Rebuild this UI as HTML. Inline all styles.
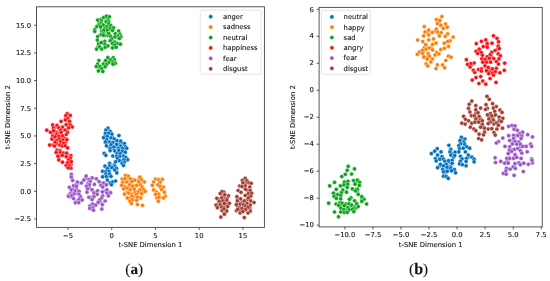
<!DOCTYPE html>
<html><head><meta charset="utf-8"><title>t-SNE</title>
<style>html,body{margin:0;padding:0;background:#fff}svg{display:block}text{stroke:#141414;stroke-width:.11px}</style></head>
<body>
<svg width="550" height="281" viewBox="0 0 550 281" font-family="'DejaVu Sans','Liberation Sans',sans-serif" font-size="6.82" fill="#141414" text-rendering="geometricPrecision">
<rect width="550" height="281" fill="#fff"/>
<g fill="#0071c1" stroke="#fff" stroke-width="0.42"><circle cx="120.0" cy="149.5" r="2.1"/><circle cx="108.8" cy="131.4" r="2.1"/><circle cx="121.5" cy="143.2" r="2.1"/><circle cx="106.7" cy="133.1" r="2.1"/><circle cx="115.7" cy="140.7" r="2.1"/><circle cx="107.8" cy="171.5" r="2.1"/><circle cx="112.4" cy="137.5" r="2.1"/><circle cx="106.5" cy="142.8" r="2.1"/><circle cx="118.7" cy="144.1" r="2.1"/><circle cx="116.1" cy="170.3" r="2.1"/><circle cx="117.8" cy="145.7" r="2.1"/><circle cx="123.7" cy="147.2" r="2.1"/><circle cx="109.1" cy="147.3" r="2.1"/><circle cx="115.7" cy="146.4" r="2.1"/><circle cx="105.5" cy="140.1" r="2.1"/><circle cx="113.1" cy="166.9" r="2.1"/><circle cx="124.5" cy="151.4" r="2.1"/><circle cx="111.4" cy="143.6" r="2.1"/><circle cx="121.9" cy="146.9" r="2.1"/><circle cx="120.9" cy="160.8" r="2.1"/><circle cx="110.6" cy="132.8" r="2.1"/><circle cx="126.0" cy="158.9" r="2.1"/><circle cx="118.0" cy="155.4" r="2.1"/><circle cx="112.8" cy="148.1" r="2.1"/><circle cx="104.8" cy="136.7" r="2.1"/><circle cx="105.0" cy="175.9" r="2.1"/><circle cx="108.5" cy="175.6" r="2.1"/><circle cx="124.0" cy="149.7" r="2.1"/><circle cx="124.8" cy="161.0" r="2.1"/><circle cx="110.1" cy="167.4" r="2.1"/><circle cx="114.7" cy="168.4" r="2.1"/><circle cx="114.3" cy="164.8" r="2.1"/><circle cx="107.9" cy="128.2" r="2.1"/><circle cx="105.9" cy="130.0" r="2.1"/><circle cx="110.1" cy="131.4" r="2.1"/><circle cx="105.4" cy="133.3" r="2.1"/><circle cx="108.7" cy="133.3" r="2.1"/><circle cx="111.9" cy="134.2" r="2.1"/><circle cx="118.9" cy="135.6" r="2.1"/><circle cx="103.6" cy="137.7" r="2.1"/><circle cx="107.3" cy="136.5" r="2.1"/><circle cx="111.0" cy="137.9" r="2.1"/><circle cx="114.2" cy="138.8" r="2.1"/><circle cx="106.8" cy="139.7" r="2.1"/><circle cx="117.0" cy="140.7" r="2.1"/><circle cx="120.7" cy="141.1" r="2.1"/><circle cx="105.4" cy="142.1" r="2.1"/><circle cx="109.6" cy="142.1" r="2.1"/><circle cx="112.8" cy="142.5" r="2.1"/><circle cx="124.4" cy="143.6" r="2.1"/><circle cx="116.5" cy="144.4" r="2.1"/><circle cx="111.0" cy="144.8" r="2.1"/><circle cx="106.4" cy="145.8" r="2.1"/><circle cx="120.7" cy="146.2" r="2.1"/><circle cx="125.3" cy="146.7" r="2.1"/><circle cx="113.8" cy="147.1" r="2.1"/><circle cx="110.1" cy="148.3" r="2.1"/><circle cx="126.7" cy="148.3" r="2.1"/><circle cx="122.6" cy="148.5" r="2.1"/><circle cx="118.4" cy="148.5" r="2.1"/><circle cx="110.1" cy="150.7" r="2.1"/><circle cx="114.7" cy="150.9" r="2.1"/><circle cx="118.9" cy="150.5" r="2.1"/><circle cx="122.6" cy="151.2" r="2.1"/><circle cx="125.3" cy="152.3" r="2.1"/><circle cx="104.2" cy="153.3" r="2.1"/><circle cx="105.9" cy="155.3" r="2.1"/><circle cx="117.0" cy="153.7" r="2.1"/><circle cx="120.2" cy="153.7" r="2.1"/><circle cx="112.8" cy="156.0" r="2.1"/><circle cx="116.5" cy="156.5" r="2.1"/><circle cx="119.8" cy="156.5" r="2.1"/><circle cx="123.5" cy="156.0" r="2.1"/><circle cx="125.8" cy="157.4" r="2.1"/><circle cx="117.5" cy="158.4" r="2.1"/><circle cx="127.6" cy="159.7" r="2.1"/><circle cx="123.9" cy="159.7" r="2.1"/><circle cx="119.3" cy="160.7" r="2.1"/><circle cx="115.6" cy="161.8" r="2.1"/><circle cx="124.4" cy="162.1" r="2.1"/><circle cx="122.1" cy="163.4" r="2.1"/><circle cx="109.6" cy="163.3" r="2.1"/><circle cx="123.5" cy="165.5" r="2.1"/><circle cx="105.0" cy="166.2" r="2.1"/><circle cx="109.6" cy="165.8" r="2.1"/><circle cx="114.7" cy="166.2" r="2.1"/><circle cx="111.9" cy="167.6" r="2.1"/><circle cx="107.3" cy="168.5" r="2.1"/><circle cx="116.5" cy="168.3" r="2.1"/><circle cx="114.7" cy="169.9" r="2.1"/><circle cx="102.6" cy="171.3" r="2.1"/><circle cx="105.9" cy="171.7" r="2.1"/><circle cx="109.1" cy="171.3" r="2.1"/><circle cx="116.8" cy="172.9" r="2.1"/><circle cx="105.9" cy="174.0" r="2.1"/><circle cx="109.6" cy="174.0" r="2.1"/><circle cx="102.6" cy="176.8" r="2.1"/><circle cx="106.4" cy="176.6" r="2.1"/><circle cx="111.0" cy="176.4" r="2.1"/><circle cx="107.3" cy="180.1" r="2.1"/><circle cx="110.1" cy="182.8" r="2.1"/><circle cx="112.8" cy="181.9" r="2.1"/><circle cx="115.6" cy="181.0" r="2.1"/><circle cx="111.4" cy="184.7" r="2.1"/></g>
<g fill="#ff7d05" stroke="#fff" stroke-width="0.42"><circle cx="140.2" cy="183.1" r="2.1"/><circle cx="131.6" cy="179.7" r="2.1"/><circle cx="156.7" cy="194.6" r="2.1"/><circle cx="131.8" cy="187.5" r="2.1"/><circle cx="126.0" cy="187.8" r="2.1"/><circle cx="158.5" cy="198.9" r="2.1"/><circle cx="133.6" cy="196.5" r="2.1"/><circle cx="136.1" cy="193.6" r="2.1"/><circle cx="160.3" cy="185.3" r="2.1"/><circle cx="124.7" cy="181.5" r="2.1"/><circle cx="126.2" cy="177.2" r="2.1"/><circle cx="123.8" cy="179.9" r="2.1"/><circle cx="122.8" cy="186.3" r="2.1"/><circle cx="129.1" cy="179.3" r="2.1"/><circle cx="159.8" cy="180.0" r="2.1"/><circle cx="130.2" cy="193.5" r="2.1"/><circle cx="139.4" cy="184.9" r="2.1"/><circle cx="138.9" cy="198.2" r="2.1"/><circle cx="139.6" cy="192.5" r="2.1"/><circle cx="127.4" cy="192.3" r="2.1"/><circle cx="159.8" cy="183.2" r="2.1"/><circle cx="134.0" cy="187.5" r="2.1"/><circle cx="140.4" cy="179.3" r="2.1"/><circle cx="157.3" cy="196.8" r="2.1"/><circle cx="138.2" cy="180.4" r="2.1"/><circle cx="142.6" cy="192.5" r="2.1"/><circle cx="129.4" cy="199.9" r="2.1"/><circle cx="135.5" cy="191.2" r="2.1"/><circle cx="129.6" cy="186.9" r="2.1"/><circle cx="130.7" cy="198.5" r="2.1"/><circle cx="130.3" cy="181.6" r="2.1"/><circle cx="141.2" cy="191.3" r="2.1"/><circle cx="125.4" cy="175.4" r="2.1"/><circle cx="128.2" cy="176.0" r="2.1"/><circle cx="139.8" cy="177.2" r="2.1"/><circle cx="122.2" cy="179.1" r="2.1"/><circle cx="124.9" cy="178.8" r="2.1"/><circle cx="130.5" cy="178.8" r="2.1"/><circle cx="134.7" cy="180.2" r="2.1"/><circle cx="141.6" cy="179.7" r="2.1"/><circle cx="122.6" cy="182.5" r="2.1"/><circle cx="126.8" cy="182.0" r="2.1"/><circle cx="131.9" cy="181.6" r="2.1"/><circle cx="138.8" cy="182.0" r="2.1"/><circle cx="144.4" cy="182.0" r="2.1"/><circle cx="121.7" cy="185.3" r="2.1"/><circle cx="129.6" cy="184.8" r="2.1"/><circle cx="136.5" cy="185.3" r="2.1"/><circle cx="140.7" cy="184.8" r="2.1"/><circle cx="124.9" cy="186.7" r="2.1"/><circle cx="132.8" cy="186.2" r="2.1"/><circle cx="127.3" cy="188.1" r="2.1"/><circle cx="142.1" cy="187.1" r="2.1"/><circle cx="123.6" cy="189.0" r="2.1"/><circle cx="130.0" cy="189.9" r="2.1"/><circle cx="134.2" cy="189.4" r="2.1"/><circle cx="139.8" cy="189.9" r="2.1"/><circle cx="143.5" cy="189.4" r="2.1"/><circle cx="145.3" cy="191.3" r="2.1"/><circle cx="137.9" cy="192.2" r="2.1"/><circle cx="135.1" cy="192.7" r="2.1"/><circle cx="124.5" cy="194.1" r="2.1"/><circle cx="128.6" cy="193.1" r="2.1"/><circle cx="131.9" cy="194.3" r="2.1"/><circle cx="141.6" cy="193.6" r="2.1"/><circle cx="131.9" cy="196.2" r="2.1"/><circle cx="136.5" cy="194.8" r="2.1"/><circle cx="127.3" cy="197.9" r="2.1"/><circle cx="140.7" cy="197.9" r="2.1"/><circle cx="137.4" cy="197.3" r="2.1"/><circle cx="132.4" cy="199.9" r="2.1"/><circle cx="136.5" cy="200.4" r="2.1"/><circle cx="130.0" cy="201.3" r="2.1"/><circle cx="131.4" cy="203.4" r="2.1"/><circle cx="137.4" cy="204.5" r="2.1"/><circle cx="142.5" cy="205.4" r="2.1"/><circle cx="155.5" cy="179.1" r="2.1"/><circle cx="162.4" cy="179.3" r="2.1"/><circle cx="158.3" cy="179.7" r="2.1"/><circle cx="153.6" cy="182.0" r="2.1"/><circle cx="160.1" cy="182.0" r="2.1"/><circle cx="152.3" cy="185.3" r="2.1"/><circle cx="157.8" cy="184.8" r="2.1"/><circle cx="163.4" cy="187.1" r="2.1"/><circle cx="160.1" cy="186.7" r="2.1"/><circle cx="153.6" cy="189.9" r="2.1"/><circle cx="161.5" cy="189.6" r="2.1"/><circle cx="164.3" cy="192.2" r="2.1"/><circle cx="156.4" cy="192.2" r="2.1"/><circle cx="158.7" cy="194.1" r="2.1"/><circle cx="155.5" cy="194.3" r="2.1"/><circle cx="165.2" cy="196.2" r="2.1"/><circle cx="163.4" cy="198.0" r="2.1"/><circle cx="156.9" cy="198.0" r="2.1"/><circle cx="159.2" cy="197.1" r="2.1"/><circle cx="158.3" cy="201.3" r="2.1"/></g>
<g fill="#08a318" stroke="#fff" stroke-width="0.42"><circle cx="99.4" cy="69.2" r="2.1"/><circle cx="119.2" cy="36.1" r="2.1"/><circle cx="98.0" cy="26.0" r="2.1"/><circle cx="99.1" cy="23.2" r="2.1"/><circle cx="107.6" cy="21.1" r="2.1"/><circle cx="108.6" cy="30.4" r="2.1"/><circle cx="101.0" cy="19.3" r="2.1"/><circle cx="113.7" cy="45.1" r="2.1"/><circle cx="112.3" cy="37.9" r="2.1"/><circle cx="103.1" cy="28.2" r="2.1"/><circle cx="101.5" cy="29.1" r="2.1"/><circle cx="107.3" cy="23.2" r="2.1"/><circle cx="97.4" cy="65.8" r="2.1"/><circle cx="98.1" cy="46.9" r="2.1"/><circle cx="108.7" cy="60.2" r="2.1"/><circle cx="109.4" cy="26.2" r="2.1"/><circle cx="107.6" cy="35.4" r="2.1"/><circle cx="113.2" cy="41.8" r="2.1"/><circle cx="112.4" cy="61.0" r="2.1"/><circle cx="104.8" cy="62.7" r="2.1"/><circle cx="105.3" cy="17.5" r="2.1"/><circle cx="108.3" cy="18.7" r="2.1"/><circle cx="118.4" cy="37.9" r="2.1"/><circle cx="105.9" cy="29.9" r="2.1"/><circle cx="107.0" cy="32.0" r="2.1"/><circle cx="115.9" cy="43.5" r="2.1"/><circle cx="104.6" cy="31.5" r="2.1"/><circle cx="114.2" cy="46.8" r="2.1"/><circle cx="110.7" cy="61.6" r="2.1"/><circle cx="106.0" cy="28.2" r="2.1"/><circle cx="102.8" cy="32.4" r="2.1"/><circle cx="116.7" cy="36.7" r="2.1"/><circle cx="99.3" cy="43.0" r="2.1"/><circle cx="104.9" cy="26.9" r="2.1"/><circle cx="103.6" cy="17.6" r="2.1"/><circle cx="106.5" cy="16.2" r="2.1"/><circle cx="109.5" cy="16.8" r="2.1"/><circle cx="97.7" cy="20.1" r="2.1"/><circle cx="101.4" cy="20.8" r="2.1"/><circle cx="107.9" cy="19.9" r="2.1"/><circle cx="106.1" cy="21.7" r="2.1"/><circle cx="108.8" cy="22.0" r="2.1"/><circle cx="101.0" cy="23.3" r="2.1"/><circle cx="108.8" cy="24.0" r="2.1"/><circle cx="99.1" cy="25.0" r="2.1"/><circle cx="103.3" cy="25.0" r="2.1"/><circle cx="96.8" cy="26.6" r="2.1"/><circle cx="100.5" cy="26.8" r="2.1"/><circle cx="110.7" cy="25.7" r="2.1"/><circle cx="106.5" cy="26.8" r="2.1"/><circle cx="94.7" cy="29.6" r="2.1"/><circle cx="104.7" cy="28.7" r="2.1"/><circle cx="110.2" cy="28.2" r="2.1"/><circle cx="113.5" cy="27.9" r="2.1"/><circle cx="94.7" cy="31.4" r="2.1"/><circle cx="101.9" cy="31.4" r="2.1"/><circle cx="107.0" cy="30.1" r="2.1"/><circle cx="103.7" cy="30.5" r="2.1"/><circle cx="112.5" cy="30.5" r="2.1"/><circle cx="118.6" cy="31.0" r="2.1"/><circle cx="108.8" cy="33.5" r="2.1"/><circle cx="103.3" cy="33.8" r="2.1"/><circle cx="101.0" cy="34.7" r="2.1"/><circle cx="115.3" cy="33.8" r="2.1"/><circle cx="119.9" cy="34.2" r="2.1"/><circle cx="97.7" cy="36.5" r="2.1"/><circle cx="104.7" cy="35.6" r="2.1"/><circle cx="110.7" cy="36.3" r="2.1"/><circle cx="118.1" cy="36.1" r="2.1"/><circle cx="120.9" cy="36.8" r="2.1"/><circle cx="114.9" cy="37.0" r="2.1"/><circle cx="103.3" cy="35.2" r="2.1"/><circle cx="97.3" cy="40.1" r="2.1"/><circle cx="111.6" cy="38.9" r="2.1"/><circle cx="119.5" cy="38.5" r="2.1"/><circle cx="104.7" cy="41.3" r="2.1"/><circle cx="110.2" cy="40.8" r="2.1"/><circle cx="114.9" cy="42.2" r="2.1"/><circle cx="98.6" cy="44.0" r="2.1"/><circle cx="104.7" cy="44.0" r="2.1"/><circle cx="101.4" cy="42.6" r="2.1"/><circle cx="107.9" cy="45.9" r="2.1"/><circle cx="112.5" cy="43.6" r="2.1"/><circle cx="117.6" cy="43.6" r="2.1"/><circle cx="120.4" cy="44.2" r="2.1"/><circle cx="114.9" cy="45.0" r="2.1"/><circle cx="99.6" cy="46.8" r="2.1"/><circle cx="105.1" cy="47.3" r="2.1"/><circle cx="112.5" cy="47.9" r="2.1"/><circle cx="116.2" cy="47.3" r="2.1"/><circle cx="96.5" cy="49.1" r="2.1"/><circle cx="101.7" cy="49.1" r="2.1"/><circle cx="107.9" cy="57.7" r="2.1"/><circle cx="113.2" cy="57.7" r="2.1"/><circle cx="98.9" cy="60.5" r="2.1"/><circle cx="105.6" cy="60.5" r="2.1"/><circle cx="110.7" cy="59.9" r="2.1"/><circle cx="114.4" cy="59.9" r="2.1"/><circle cx="108.8" cy="62.6" r="2.1"/><circle cx="113.0" cy="62.2" r="2.1"/><circle cx="115.3" cy="63.3" r="2.1"/><circle cx="97.7" cy="64.0" r="2.1"/><circle cx="103.3" cy="64.0" r="2.1"/><circle cx="106.5" cy="64.5" r="2.1"/><circle cx="113.0" cy="64.2" r="2.1"/><circle cx="96.3" cy="66.6" r="2.1"/><circle cx="100.0" cy="66.6" r="2.1"/><circle cx="105.1" cy="66.8" r="2.1"/><circle cx="101.7" cy="68.7" r="2.1"/><circle cx="98.4" cy="71.0" r="2.1"/><circle cx="102.8" cy="71.4" r="2.1"/></g>
<g fill="#fa0f14" stroke="#fff" stroke-width="0.42"><circle cx="70.9" cy="164.6" r="2.1"/><circle cx="63.8" cy="130.1" r="2.1"/><circle cx="58.1" cy="151.6" r="2.1"/><circle cx="66.7" cy="116.7" r="2.1"/><circle cx="67.3" cy="155.3" r="2.1"/><circle cx="64.4" cy="140.1" r="2.1"/><circle cx="55.7" cy="126.8" r="2.1"/><circle cx="61.8" cy="129.3" r="2.1"/><circle cx="69.5" cy="157.0" r="2.1"/><circle cx="53.0" cy="145.0" r="2.1"/><circle cx="53.1" cy="131.9" r="2.1"/><circle cx="68.4" cy="125.1" r="2.1"/><circle cx="67.4" cy="157.7" r="2.1"/><circle cx="59.1" cy="156.4" r="2.1"/><circle cx="65.2" cy="142.5" r="2.1"/><circle cx="69.9" cy="159.2" r="2.1"/><circle cx="68.0" cy="164.2" r="2.1"/><circle cx="61.9" cy="140.6" r="2.1"/><circle cx="55.4" cy="135.1" r="2.1"/><circle cx="64.3" cy="138.1" r="2.1"/><circle cx="69.6" cy="123.6" r="2.1"/><circle cx="56.8" cy="143.4" r="2.1"/><circle cx="57.9" cy="132.9" r="2.1"/><circle cx="65.8" cy="118.3" r="2.1"/><circle cx="61.0" cy="144.0" r="2.1"/><circle cx="55.4" cy="138.7" r="2.1"/><circle cx="60.4" cy="137.9" r="2.1"/><circle cx="53.9" cy="136.4" r="2.1"/><circle cx="67.2" cy="113.7" r="2.1"/><circle cx="70.2" cy="115.4" r="2.1"/><circle cx="65.8" cy="115.6" r="2.1"/><circle cx="67.6" cy="118.4" r="2.1"/><circle cx="61.1" cy="121.4" r="2.1"/><circle cx="65.3" cy="120.0" r="2.1"/><circle cx="69.5" cy="121.4" r="2.1"/><circle cx="52.6" cy="124.9" r="2.1"/><circle cx="57.0" cy="125.4" r="2.1"/><circle cx="66.2" cy="124.7" r="2.1"/><circle cx="70.4" cy="125.1" r="2.1"/><circle cx="62.5" cy="127.0" r="2.1"/><circle cx="53.3" cy="127.9" r="2.1"/><circle cx="58.8" cy="127.9" r="2.1"/><circle cx="72.3" cy="127.0" r="2.1"/><circle cx="68.6" cy="127.9" r="2.1"/><circle cx="46.8" cy="130.2" r="2.1"/><circle cx="60.7" cy="130.2" r="2.1"/><circle cx="65.3" cy="130.0" r="2.1"/><circle cx="50.5" cy="132.3" r="2.1"/><circle cx="56.1" cy="132.3" r="2.1"/><circle cx="67.6" cy="132.3" r="2.1"/><circle cx="53.7" cy="130.7" r="2.1"/><circle cx="56.5" cy="134.5" r="2.1"/><circle cx="61.1" cy="132.6" r="2.1"/><circle cx="66.2" cy="134.5" r="2.1"/><circle cx="52.8" cy="135.9" r="2.1"/><circle cx="62.5" cy="135.9" r="2.1"/><circle cx="55.1" cy="136.8" r="2.1"/><circle cx="58.8" cy="136.3" r="2.1"/><circle cx="51.9" cy="139.1" r="2.1"/><circle cx="59.1" cy="139.1" r="2.1"/><circle cx="63.0" cy="140.0" r="2.1"/><circle cx="66.9" cy="139.6" r="2.1"/><circle cx="56.5" cy="140.5" r="2.1"/><circle cx="55.1" cy="142.1" r="2.1"/><circle cx="60.7" cy="141.9" r="2.1"/><circle cx="63.5" cy="143.3" r="2.1"/><circle cx="49.6" cy="145.1" r="2.1"/><circle cx="54.5" cy="146.1" r="2.1"/><circle cx="59.8" cy="145.1" r="2.1"/><circle cx="62.3" cy="146.1" r="2.1"/><circle cx="65.3" cy="145.8" r="2.1"/><circle cx="67.6" cy="147.9" r="2.1"/><circle cx="57.0" cy="150.2" r="2.1"/><circle cx="60.2" cy="150.7" r="2.1"/><circle cx="56.1" cy="152.5" r="2.1"/><circle cx="60.7" cy="152.5" r="2.1"/><circle cx="63.5" cy="153.0" r="2.1"/><circle cx="66.7" cy="153.2" r="2.1"/><circle cx="57.9" cy="156.2" r="2.1"/><circle cx="62.3" cy="155.3" r="2.1"/><circle cx="66.2" cy="156.6" r="2.1"/><circle cx="70.9" cy="155.7" r="2.1"/><circle cx="70.4" cy="158.0" r="2.1"/><circle cx="58.8" cy="159.9" r="2.1"/><circle cx="68.6" cy="159.9" r="2.1"/><circle cx="62.5" cy="162.2" r="2.1"/><circle cx="67.6" cy="162.7" r="2.1"/><circle cx="71.3" cy="161.7" r="2.1"/><circle cx="66.2" cy="165.4" r="2.1"/><circle cx="69.5" cy="165.9" r="2.1"/><circle cx="70.9" cy="168.2" r="2.1"/><circle cx="68.1" cy="167.8" r="2.1"/></g>
<g fill="#9855c8" stroke="#fff" stroke-width="0.42"><circle cx="80.5" cy="198.1" r="2.1"/><circle cx="108.7" cy="193.9" r="2.1"/><circle cx="94.7" cy="195.0" r="2.1"/><circle cx="90.5" cy="179.4" r="2.1"/><circle cx="101.9" cy="183.5" r="2.1"/><circle cx="91.6" cy="205.1" r="2.1"/><circle cx="93.9" cy="205.0" r="2.1"/><circle cx="85.8" cy="178.1" r="2.1"/><circle cx="80.0" cy="200.3" r="2.1"/><circle cx="78.1" cy="183.1" r="2.1"/><circle cx="105.2" cy="191.0" r="2.1"/><circle cx="71.1" cy="197.0" r="2.1"/><circle cx="100.3" cy="201.7" r="2.1"/><circle cx="76.3" cy="201.1" r="2.1"/><circle cx="72.6" cy="193.3" r="2.1"/><circle cx="108.2" cy="192.3" r="2.1"/><circle cx="102.3" cy="185.9" r="2.1"/><circle cx="91.1" cy="207.3" r="2.1"/><circle cx="89.2" cy="188.1" r="2.1"/><circle cx="92.5" cy="197.2" r="2.1"/><circle cx="77.9" cy="201.3" r="2.1"/><circle cx="70.4" cy="193.4" r="2.1"/><circle cx="72.8" cy="197.0" r="2.1"/><circle cx="77.1" cy="193.4" r="2.1"/><circle cx="72.9" cy="188.8" r="2.1"/><circle cx="76.4" cy="189.1" r="2.1"/><circle cx="95.3" cy="192.6" r="2.1"/><circle cx="103.9" cy="185.3" r="2.1"/><circle cx="74.0" cy="191.7" r="2.1"/><circle cx="76.6" cy="184.3" r="2.1"/><circle cx="88.1" cy="183.2" r="2.1"/><circle cx="71.3" cy="174.4" r="2.1"/><circle cx="71.3" cy="177.2" r="2.1"/><circle cx="72.6" cy="180.4" r="2.1"/><circle cx="86.1" cy="176.0" r="2.1"/><circle cx="92.1" cy="177.9" r="2.1"/><circle cx="96.3" cy="178.8" r="2.1"/><circle cx="77.3" cy="182.0" r="2.1"/><circle cx="83.8" cy="180.2" r="2.1"/><circle cx="88.9" cy="179.7" r="2.1"/><circle cx="81.4" cy="183.0" r="2.1"/><circle cx="90.2" cy="181.6" r="2.1"/><circle cx="99.0" cy="181.6" r="2.1"/><circle cx="103.7" cy="183.0" r="2.1"/><circle cx="73.6" cy="185.7" r="2.1"/><circle cx="76.4" cy="186.2" r="2.1"/><circle cx="89.3" cy="184.8" r="2.1"/><circle cx="94.4" cy="184.4" r="2.1"/><circle cx="106.4" cy="184.8" r="2.1"/><circle cx="69.4" cy="187.4" r="2.1"/><circle cx="86.5" cy="186.2" r="2.1"/><circle cx="100.9" cy="185.3" r="2.1"/><circle cx="102.7" cy="187.1" r="2.1"/><circle cx="71.3" cy="189.9" r="2.1"/><circle cx="75.0" cy="190.8" r="2.1"/><circle cx="79.1" cy="191.3" r="2.1"/><circle cx="87.5" cy="189.0" r="2.1"/><circle cx="92.1" cy="189.9" r="2.1"/><circle cx="97.6" cy="190.8" r="2.1"/><circle cx="106.9" cy="189.9" r="2.1"/><circle cx="87.0" cy="192.2" r="2.1"/><circle cx="102.3" cy="191.8" r="2.1"/><circle cx="74.0" cy="193.9" r="2.1"/><circle cx="93.9" cy="193.1" r="2.1"/><circle cx="110.6" cy="192.7" r="2.1"/><circle cx="97.2" cy="194.3" r="2.1"/><circle cx="68.9" cy="195.2" r="2.1"/><circle cx="79.1" cy="194.3" r="2.1"/><circle cx="106.9" cy="193.1" r="2.1"/><circle cx="68.5" cy="196.3" r="2.1"/><circle cx="71.7" cy="195.9" r="2.1"/><circle cx="102.7" cy="195.9" r="2.1"/><circle cx="108.3" cy="195.9" r="2.1"/><circle cx="80.5" cy="196.8" r="2.1"/><circle cx="88.9" cy="197.3" r="2.1"/><circle cx="93.9" cy="196.8" r="2.1"/><circle cx="73.6" cy="198.6" r="2.1"/><circle cx="101.4" cy="198.2" r="2.1"/><circle cx="79.1" cy="199.3" r="2.1"/><circle cx="82.2" cy="200.0" r="2.1"/><circle cx="92.1" cy="199.6" r="2.1"/><circle cx="99.5" cy="200.0" r="2.1"/><circle cx="105.1" cy="201.0" r="2.1"/><circle cx="75.4" cy="202.8" r="2.1"/><circle cx="78.7" cy="202.6" r="2.1"/><circle cx="98.1" cy="202.4" r="2.1"/><circle cx="92.6" cy="204.2" r="2.1"/><circle cx="95.8" cy="205.1" r="2.1"/><circle cx="102.3" cy="204.7" r="2.1"/><circle cx="89.8" cy="206.1" r="2.1"/><circle cx="89.8" cy="208.4" r="2.1"/><circle cx="93.0" cy="207.9" r="2.1"/><circle cx="93.5" cy="210.2" r="2.1"/><circle cx="101.8" cy="209.1" r="2.1"/></g>
<g fill="#a03c30" stroke="#fff" stroke-width="0.42"><circle cx="222.5" cy="208.4" r="2.1"/><circle cx="221.4" cy="203.9" r="2.1"/><circle cx="239.9" cy="207.1" r="2.1"/><circle cx="245.1" cy="202.2" r="2.1"/><circle cx="222.9" cy="195.9" r="2.1"/><circle cx="223.7" cy="197.8" r="2.1"/><circle cx="249.8" cy="208.0" r="2.1"/><circle cx="224.0" cy="213.1" r="2.1"/><circle cx="247.6" cy="206.0" r="2.1"/><circle cx="250.6" cy="195.0" r="2.1"/><circle cx="237.6" cy="198.6" r="2.1"/><circle cx="221.6" cy="200.6" r="2.1"/><circle cx="237.9" cy="202.1" r="2.1"/><circle cx="247.6" cy="194.8" r="2.1"/><circle cx="218.5" cy="203.1" r="2.1"/><circle cx="223.0" cy="203.0" r="2.1"/><circle cx="223.7" cy="206.6" r="2.1"/><circle cx="240.0" cy="209.8" r="2.1"/><circle cx="237.7" cy="206.3" r="2.1"/><circle cx="218.7" cy="199.9" r="2.1"/><circle cx="246.8" cy="207.9" r="2.1"/><circle cx="227.6" cy="203.4" r="2.1"/><circle cx="224.7" cy="201.4" r="2.1"/><circle cx="248.1" cy="190.5" r="2.1"/><circle cx="244.4" cy="209.6" r="2.1"/><circle cx="246.1" cy="182.9" r="2.1"/><circle cx="220.0" cy="205.8" r="2.1"/><circle cx="241.9" cy="203.3" r="2.1"/><circle cx="247.4" cy="199.4" r="2.1"/><circle cx="248.9" cy="196.5" r="2.1"/><circle cx="226.7" cy="204.8" r="2.1"/><circle cx="226.1" cy="209.6" r="2.1"/><circle cx="243.9" cy="187.2" r="2.1"/><circle cx="217.8" cy="205.4" r="2.1"/><circle cx="242.7" cy="201.5" r="2.1"/><circle cx="245.2" cy="178.4" r="2.1"/><circle cx="242.4" cy="180.3" r="2.1"/><circle cx="247.0" cy="180.9" r="2.1"/><circle cx="248.9" cy="182.8" r="2.1"/><circle cx="242.9" cy="182.8" r="2.1"/><circle cx="251.2" cy="183.3" r="2.1"/><circle cx="239.6" cy="186.0" r="2.1"/><circle cx="245.2" cy="185.9" r="2.1"/><circle cx="241.9" cy="186.5" r="2.1"/><circle cx="249.8" cy="187.0" r="2.1"/><circle cx="238.2" cy="190.5" r="2.1"/><circle cx="245.6" cy="189.3" r="2.1"/><circle cx="250.3" cy="190.7" r="2.1"/><circle cx="241.0" cy="192.3" r="2.1"/><circle cx="223.9" cy="192.1" r="2.1"/><circle cx="222.0" cy="191.6" r="2.1"/><circle cx="220.2" cy="193.6" r="2.1"/><circle cx="248.4" cy="193.6" r="2.1"/><circle cx="251.7" cy="193.3" r="2.1"/><circle cx="228.5" cy="195.8" r="2.1"/><circle cx="224.8" cy="194.8" r="2.1"/><circle cx="245.2" cy="195.5" r="2.1"/><circle cx="236.9" cy="196.7" r="2.1"/><circle cx="250.7" cy="196.2" r="2.1"/><circle cx="216.9" cy="198.3" r="2.1"/><circle cx="221.6" cy="197.9" r="2.1"/><circle cx="240.6" cy="198.8" r="2.1"/><circle cx="248.4" cy="197.9" r="2.1"/><circle cx="227.1" cy="198.5" r="2.1"/><circle cx="226.7" cy="200.3" r="2.1"/><circle cx="219.3" cy="201.4" r="2.1"/><circle cx="223.0" cy="200.9" r="2.1"/><circle cx="229.4" cy="203.3" r="2.1"/><circle cx="224.4" cy="203.3" r="2.1"/><circle cx="216.0" cy="205.1" r="2.1"/><circle cx="220.2" cy="204.6" r="2.1"/><circle cx="227.6" cy="206.5" r="2.1"/><circle cx="221.6" cy="207.0" r="2.1"/><circle cx="217.4" cy="207.7" r="2.1"/><circle cx="222.0" cy="210.5" r="2.1"/><circle cx="226.7" cy="211.1" r="2.1"/><circle cx="224.4" cy="214.2" r="2.1"/><circle cx="220.9" cy="217.1" r="2.1"/><circle cx="223.9" cy="208.8" r="2.1"/><circle cx="244.3" cy="200.9" r="2.1"/><circle cx="237.3" cy="200.9" r="2.1"/><circle cx="250.7" cy="200.9" r="2.1"/><circle cx="254.0" cy="202.5" r="2.1"/><circle cx="247.0" cy="203.3" r="2.1"/><circle cx="240.1" cy="204.2" r="2.1"/><circle cx="236.4" cy="204.6" r="2.1"/><circle cx="243.3" cy="204.6" r="2.1"/><circle cx="250.3" cy="205.1" r="2.1"/><circle cx="245.2" cy="206.0" r="2.1"/><circle cx="238.7" cy="207.9" r="2.1"/><circle cx="241.9" cy="208.4" r="2.1"/><circle cx="248.0" cy="207.4" r="2.1"/><circle cx="245.6" cy="209.6" r="2.1"/><circle cx="236.4" cy="210.7" r="2.1"/><circle cx="250.3" cy="211.1" r="2.1"/><circle cx="240.1" cy="213.0" r="2.1"/><circle cx="242.9" cy="211.6" r="2.1"/><circle cx="248.0" cy="213.0" r="2.1"/><circle cx="244.3" cy="217.6" r="2.1"/><circle cx="237.8" cy="209.3" r="2.1"/></g>
<rect x="36.55" y="6.8" width="227.84999999999997" height="220.6" fill="none" stroke="#444" stroke-width="0.9"/>
<g stroke="#333" stroke-width="0.8"><line x1="67.95" y1="227.4" x2="67.95" y2="229.9"/><line x1="111.70" y1="227.4" x2="111.70" y2="229.9"/><line x1="155.45" y1="227.4" x2="155.45" y2="229.9"/><line x1="199.20" y1="227.4" x2="199.20" y2="229.9"/><line x1="242.95" y1="227.4" x2="242.95" y2="229.9"/><line x1="34.05" y1="218.98" x2="36.55" y2="218.98"/><line x1="34.05" y1="191.30" x2="36.55" y2="191.30"/><line x1="34.05" y1="163.62" x2="36.55" y2="163.62"/><line x1="34.05" y1="135.95" x2="36.55" y2="135.95"/><line x1="34.05" y1="108.28" x2="36.55" y2="108.28"/><line x1="34.05" y1="80.60" x2="36.55" y2="80.60"/><line x1="34.05" y1="52.93" x2="36.55" y2="52.93"/><line x1="34.05" y1="25.25" x2="36.55" y2="25.25"/></g>
<g text-anchor="middle"><text x="67.95" y="238.05">−5</text><text x="111.70" y="238.05">0</text><text x="155.45" y="238.05">5</text><text x="199.20" y="238.05">10</text><text x="242.95" y="238.05">15</text></g>
<g text-anchor="end"><text x="31.1" y="221.43">−2.5</text><text x="31.1" y="193.75">0.0</text><text x="31.1" y="166.07">2.5</text><text x="31.1" y="138.40">5.0</text><text x="31.1" y="110.73">7.5</text><text x="31.1" y="83.05">10.0</text><text x="31.1" y="55.38">12.5</text><text x="31.1" y="27.70">15.0</text></g>
<text x="150.47" y="247.4" text-anchor="middle">t-SNE Dimension 1</text>
<text transform="translate(10.4,117.10) rotate(-90)" text-anchor="middle">t-SNE Dimension 2</text>
<rect x="200.3" y="10.1" width="60.9" height="64.0" rx="1.3" ry="1.3" fill="#fff" fill-opacity="0.8" stroke="#cfcfcf" stroke-width="0.55"/>
<circle cx="210.7" cy="16.70" r="2.1" fill="#0071c1" stroke="#fff" stroke-width="0.42"/><text x="223.0" y="19.05">anger</text>
<circle cx="210.7" cy="27.12" r="2.1" fill="#ff7d05" stroke="#fff" stroke-width="0.42"/><text x="223.0" y="29.47">sadness</text>
<circle cx="210.7" cy="37.54" r="2.1" fill="#08a318" stroke="#fff" stroke-width="0.42"/><text x="223.0" y="39.89">neutral</text>
<circle cx="210.7" cy="47.96" r="2.1" fill="#fa0f14" stroke="#fff" stroke-width="0.42"/><text x="223.0" y="50.31">happiness</text>
<circle cx="210.7" cy="58.38" r="2.1" fill="#9855c8" stroke="#fff" stroke-width="0.42"/><text x="223.0" y="60.73">fear</text>
<circle cx="210.7" cy="68.80" r="2.1" fill="#a03c30" stroke="#fff" stroke-width="0.42"/><text x="223.0" y="71.15">disgust</text>
<g fill="#0071c1" stroke="#fff" stroke-width="0.42"><circle cx="463.3" cy="140.1" r="2.1"/><circle cx="445.0" cy="170.8" r="2.1"/><circle cx="450.8" cy="161.1" r="2.1"/><circle cx="441.4" cy="158.9" r="2.1"/><circle cx="460.6" cy="142.1" r="2.1"/><circle cx="468.3" cy="157.2" r="2.1"/><circle cx="453.0" cy="153.8" r="2.1"/><circle cx="440.2" cy="165.7" r="2.1"/><circle cx="453.6" cy="157.2" r="2.1"/><circle cx="450.6" cy="166.5" r="2.1"/><circle cx="450.1" cy="170.2" r="2.1"/><circle cx="444.9" cy="175.2" r="2.1"/><circle cx="461.5" cy="139.5" r="2.1"/><circle cx="447.7" cy="169.8" r="2.1"/><circle cx="449.4" cy="162.1" r="2.1"/><circle cx="461.4" cy="137.3" r="2.1"/><circle cx="464.9" cy="139.1" r="2.1"/><circle cx="460.0" cy="140.5" r="2.1"/><circle cx="463.9" cy="142.0" r="2.1"/><circle cx="460.5" cy="143.9" r="2.1"/><circle cx="464.6" cy="144.3" r="2.1"/><circle cx="448.9" cy="145.3" r="2.1"/><circle cx="458.8" cy="145.8" r="2.1"/><circle cx="466.8" cy="146.8" r="2.1"/><circle cx="469.7" cy="148.2" r="2.1"/><circle cx="459.5" cy="148.7" r="2.1"/><circle cx="463.2" cy="148.2" r="2.1"/><circle cx="437.2" cy="148.7" r="2.1"/><circle cx="450.8" cy="149.3" r="2.1"/><circle cx="434.7" cy="151.2" r="2.1"/><circle cx="441.0" cy="151.9" r="2.1"/><circle cx="450.0" cy="151.9" r="2.1"/><circle cx="455.1" cy="152.2" r="2.1"/><circle cx="458.8" cy="151.9" r="2.1"/><circle cx="465.4" cy="151.9" r="2.1"/><circle cx="431.4" cy="153.6" r="2.1"/><circle cx="437.6" cy="155.1" r="2.1"/><circle cx="450.8" cy="155.1" r="2.1"/><circle cx="454.7" cy="155.5" r="2.1"/><circle cx="442.0" cy="156.6" r="2.1"/><circle cx="460.5" cy="156.3" r="2.1"/><circle cx="468.3" cy="155.1" r="2.1"/><circle cx="471.9" cy="157.0" r="2.1"/><circle cx="435.4" cy="158.5" r="2.1"/><circle cx="439.8" cy="159.2" r="2.1"/><circle cx="443.5" cy="159.2" r="2.1"/><circle cx="462.0" cy="158.9" r="2.1"/><circle cx="466.4" cy="158.5" r="2.1"/><circle cx="474.1" cy="159.2" r="2.1"/><circle cx="436.2" cy="160.9" r="2.1"/><circle cx="444.9" cy="161.4" r="2.1"/><circle cx="448.6" cy="160.7" r="2.1"/><circle cx="452.2" cy="160.4" r="2.1"/><circle cx="460.3" cy="161.4" r="2.1"/><circle cx="466.1" cy="161.4" r="2.1"/><circle cx="474.1" cy="161.8" r="2.1"/><circle cx="440.5" cy="164.3" r="2.1"/><circle cx="446.4" cy="164.3" r="2.1"/><circle cx="452.2" cy="163.3" r="2.1"/><circle cx="459.5" cy="163.9" r="2.1"/><circle cx="462.4" cy="164.7" r="2.1"/><circle cx="466.1" cy="165.8" r="2.1"/><circle cx="443.5" cy="165.8" r="2.1"/><circle cx="437.6" cy="167.7" r="2.1"/><circle cx="447.1" cy="167.2" r="2.1"/><circle cx="450.8" cy="168.2" r="2.1"/><circle cx="442.7" cy="169.4" r="2.1"/><circle cx="454.4" cy="169.7" r="2.1"/><circle cx="443.5" cy="171.8" r="2.1"/><circle cx="447.1" cy="171.4" r="2.1"/><circle cx="451.5" cy="170.8" r="2.1"/><circle cx="455.6" cy="172.8" r="2.1"/><circle cx="443.5" cy="176.2" r="2.1"/><circle cx="446.4" cy="176.6" r="2.1"/><circle cx="448.3" cy="178.4" r="2.1"/></g>
<g fill="#ff7d05" stroke="#fff" stroke-width="0.42"><circle cx="431.1" cy="47.6" r="2.1"/><circle cx="435.6" cy="30.7" r="2.1"/><circle cx="423.6" cy="51.2" r="2.1"/><circle cx="438.3" cy="20.9" r="2.1"/><circle cx="438.7" cy="32.9" r="2.1"/><circle cx="427.1" cy="32.1" r="2.1"/><circle cx="424.3" cy="47.8" r="2.1"/><circle cx="427.5" cy="56.9" r="2.1"/><circle cx="427.4" cy="48.0" r="2.1"/><circle cx="422.0" cy="52.2" r="2.1"/><circle cx="439.3" cy="23.8" r="2.1"/><circle cx="441.8" cy="16.7" r="2.1"/><circle cx="436.4" cy="19.6" r="2.1"/><circle cx="439.9" cy="20.3" r="2.1"/><circle cx="437.4" cy="23.7" r="2.1"/><circle cx="445.5" cy="24.0" r="2.1"/><circle cx="440.8" cy="25.4" r="2.1"/><circle cx="424.3" cy="26.6" r="2.1"/><circle cx="447.2" cy="27.2" r="2.1"/><circle cx="443.3" cy="28.4" r="2.1"/><circle cx="436.4" cy="29.1" r="2.1"/><circle cx="428.7" cy="30.1" r="2.1"/><circle cx="425.0" cy="32.0" r="2.1"/><circle cx="432.3" cy="32.4" r="2.1"/><circle cx="437.4" cy="32.0" r="2.1"/><circle cx="441.1" cy="32.7" r="2.1"/><circle cx="447.7" cy="33.9" r="2.1"/><circle cx="428.7" cy="34.9" r="2.1"/><circle cx="423.6" cy="35.9" r="2.1"/><circle cx="439.3" cy="35.9" r="2.1"/><circle cx="445.2" cy="36.4" r="2.1"/><circle cx="453.1" cy="37.1" r="2.1"/><circle cx="417.7" cy="40.0" r="2.1"/><circle cx="433.5" cy="38.9" r="2.1"/><circle cx="428.7" cy="40.0" r="2.1"/><circle cx="422.8" cy="41.5" r="2.1"/><circle cx="450.1" cy="40.8" r="2.1"/><circle cx="447.7" cy="41.5" r="2.1"/><circle cx="436.0" cy="43.2" r="2.1"/><circle cx="444.3" cy="43.2" r="2.1"/><circle cx="425.8" cy="44.7" r="2.1"/><circle cx="432.6" cy="44.4" r="2.1"/><circle cx="448.4" cy="46.4" r="2.1"/><circle cx="444.3" cy="48.4" r="2.1"/><circle cx="440.8" cy="49.6" r="2.1"/><circle cx="429.4" cy="48.1" r="2.1"/><circle cx="425.8" cy="49.3" r="2.1"/><circle cx="432.6" cy="49.9" r="2.1"/><circle cx="422.4" cy="50.3" r="2.1"/><circle cx="419.2" cy="52.2" r="2.1"/><circle cx="417.4" cy="54.3" r="2.1"/><circle cx="422.8" cy="53.7" r="2.1"/><circle cx="428.2" cy="53.7" r="2.1"/><circle cx="436.7" cy="52.5" r="2.1"/><circle cx="438.9" cy="54.0" r="2.1"/><circle cx="435.0" cy="55.1" r="2.1"/><circle cx="448.4" cy="56.2" r="2.1"/><circle cx="451.0" cy="57.2" r="2.1"/><circle cx="423.9" cy="57.2" r="2.1"/><circle cx="429.4" cy="56.2" r="2.1"/><circle cx="427.2" cy="59.1" r="2.1"/><circle cx="432.3" cy="59.1" r="2.1"/><circle cx="445.8" cy="60.5" r="2.1"/><circle cx="430.9" cy="62.0" r="2.1"/><circle cx="426.2" cy="63.9" r="2.1"/><circle cx="427.7" cy="65.9" r="2.1"/><circle cx="437.4" cy="64.9" r="2.1"/><circle cx="442.6" cy="64.9" r="2.1"/><circle cx="444.7" cy="67.8" r="2.1"/><circle cx="436.0" cy="68.6" r="2.1"/></g>
<g fill="#08a318" stroke="#fff" stroke-width="0.42"><circle cx="345.9" cy="206.0" r="2.1"/><circle cx="347.1" cy="185.2" r="2.1"/><circle cx="355.4" cy="206.6" r="2.1"/><circle cx="357.1" cy="191.5" r="2.1"/><circle cx="342.6" cy="211.1" r="2.1"/><circle cx="336.0" cy="194.6" r="2.1"/><circle cx="362.0" cy="199.1" r="2.1"/><circle cx="347.1" cy="182.4" r="2.1"/><circle cx="355.1" cy="182.6" r="2.1"/><circle cx="355.5" cy="208.5" r="2.1"/><circle cx="344.4" cy="183.3" r="2.1"/><circle cx="346.6" cy="209.5" r="2.1"/><circle cx="351.9" cy="207.2" r="2.1"/><circle cx="340.8" cy="204.9" r="2.1"/><circle cx="355.9" cy="189.4" r="2.1"/><circle cx="348.2" cy="166.4" r="2.1"/><circle cx="354.5" cy="168.9" r="2.1"/><circle cx="347.2" cy="170.3" r="2.1"/><circle cx="351.6" cy="174.0" r="2.1"/><circle cx="345.3" cy="174.3" r="2.1"/><circle cx="341.8" cy="176.6" r="2.1"/><circle cx="334.5" cy="182.4" r="2.1"/><circle cx="344.3" cy="182.0" r="2.1"/><circle cx="348.0" cy="181.3" r="2.1"/><circle cx="353.5" cy="180.5" r="2.1"/><circle cx="357.4" cy="180.1" r="2.1"/><circle cx="359.6" cy="182.4" r="2.1"/><circle cx="329.7" cy="185.9" r="2.1"/><circle cx="340.4" cy="185.9" r="2.1"/><circle cx="343.9" cy="184.9" r="2.1"/><circle cx="347.7" cy="184.2" r="2.1"/><circle cx="355.0" cy="184.2" r="2.1"/><circle cx="359.3" cy="185.4" r="2.1"/><circle cx="336.3" cy="189.3" r="2.1"/><circle cx="342.8" cy="190.0" r="2.1"/><circle cx="347.2" cy="187.4" r="2.1"/><circle cx="352.3" cy="188.9" r="2.1"/><circle cx="357.4" cy="189.3" r="2.1"/><circle cx="355.3" cy="190.8" r="2.1"/><circle cx="333.4" cy="193.2" r="2.1"/><circle cx="341.4" cy="192.7" r="2.1"/><circle cx="346.5" cy="192.2" r="2.1"/><circle cx="337.7" cy="194.7" r="2.1"/><circle cx="358.2" cy="194.4" r="2.1"/><circle cx="340.7" cy="195.5" r="2.1"/><circle cx="334.1" cy="196.4" r="2.1"/><circle cx="361.8" cy="196.7" r="2.1"/><circle cx="336.3" cy="198.4" r="2.1"/><circle cx="340.7" cy="198.9" r="2.1"/><circle cx="350.9" cy="197.8" r="2.1"/><circle cx="349.4" cy="199.3" r="2.1"/><circle cx="364.0" cy="199.3" r="2.1"/><circle cx="354.5" cy="200.8" r="2.1"/><circle cx="361.8" cy="201.4" r="2.1"/><circle cx="328.7" cy="203.2" r="2.1"/><circle cx="336.0" cy="204.0" r="2.1"/><circle cx="339.9" cy="202.8" r="2.1"/><circle cx="342.1" cy="203.2" r="2.1"/><circle cx="345.8" cy="204.0" r="2.1"/><circle cx="349.1" cy="203.7" r="2.1"/><circle cx="356.7" cy="203.7" r="2.1"/><circle cx="366.6" cy="204.0" r="2.1"/><circle cx="338.5" cy="205.4" r="2.1"/><circle cx="344.3" cy="205.7" r="2.1"/><circle cx="351.6" cy="205.1" r="2.1"/><circle cx="358.2" cy="206.6" r="2.1"/><circle cx="340.7" cy="208.1" r="2.1"/><circle cx="348.0" cy="207.6" r="2.1"/><circle cx="353.8" cy="208.1" r="2.1"/><circle cx="343.6" cy="209.5" r="2.1"/><circle cx="349.4" cy="209.8" r="2.1"/><circle cx="352.3" cy="209.5" r="2.1"/><circle cx="334.5" cy="212.0" r="2.1"/><circle cx="340.7" cy="212.0" r="2.1"/><circle cx="344.3" cy="212.4" r="2.1"/><circle cx="347.2" cy="212.4" r="2.1"/><circle cx="353.8" cy="211.6" r="2.1"/><circle cx="338.5" cy="216.8" r="2.1"/></g>
<g fill="#fa0f14" stroke="#fff" stroke-width="0.42"><circle cx="491.0" cy="73.2" r="2.1"/><circle cx="471.8" cy="64.3" r="2.1"/><circle cx="486.8" cy="60.7" r="2.1"/><circle cx="497.6" cy="49.0" r="2.1"/><circle cx="487.2" cy="68.5" r="2.1"/><circle cx="487.2" cy="58.9" r="2.1"/><circle cx="488.2" cy="72.1" r="2.1"/><circle cx="488.7" cy="69.6" r="2.1"/><circle cx="491.0" cy="56.2" r="2.1"/><circle cx="484.2" cy="62.9" r="2.1"/><circle cx="493.5" cy="71.7" r="2.1"/><circle cx="478.1" cy="51.7" r="2.1"/><circle cx="479.9" cy="51.0" r="2.1"/><circle cx="491.6" cy="69.9" r="2.1"/><circle cx="485.3" cy="61.6" r="2.1"/><circle cx="485.8" cy="46.3" r="2.1"/><circle cx="493.5" cy="35.9" r="2.1"/><circle cx="497.0" cy="38.4" r="2.1"/><circle cx="485.8" cy="39.9" r="2.1"/><circle cx="481.4" cy="41.4" r="2.1"/><circle cx="498.5" cy="41.8" r="2.1"/><circle cx="476.3" cy="43.7" r="2.1"/><circle cx="487.2" cy="43.7" r="2.1"/><circle cx="492.0" cy="43.2" r="2.1"/><circle cx="483.3" cy="46.6" r="2.1"/><circle cx="487.2" cy="47.2" r="2.1"/><circle cx="498.2" cy="46.2" r="2.1"/><circle cx="479.2" cy="49.1" r="2.1"/><circle cx="499.3" cy="48.6" r="2.1"/><circle cx="476.0" cy="51.3" r="2.1"/><circle cx="495.0" cy="50.5" r="2.1"/><circle cx="477.7" cy="53.5" r="2.1"/><circle cx="481.4" cy="52.7" r="2.1"/><circle cx="491.6" cy="52.4" r="2.1"/><circle cx="482.4" cy="55.4" r="2.1"/><circle cx="490.1" cy="54.9" r="2.1"/><circle cx="498.2" cy="53.9" r="2.1"/><circle cx="500.4" cy="55.9" r="2.1"/><circle cx="487.2" cy="56.8" r="2.1"/><circle cx="481.8" cy="58.9" r="2.1"/><circle cx="485.0" cy="59.3" r="2.1"/><circle cx="489.4" cy="58.3" r="2.1"/><circle cx="493.8" cy="58.6" r="2.1"/><circle cx="498.9" cy="58.9" r="2.1"/><circle cx="466.4" cy="59.7" r="2.1"/><circle cx="486.5" cy="62.2" r="2.1"/><circle cx="490.6" cy="62.2" r="2.1"/><circle cx="482.8" cy="62.2" r="2.1"/><circle cx="496.4" cy="61.5" r="2.1"/><circle cx="474.1" cy="63.0" r="2.1"/><circle cx="470.7" cy="63.7" r="2.1"/><circle cx="467.5" cy="64.4" r="2.1"/><circle cx="504.7" cy="63.2" r="2.1"/><circle cx="498.5" cy="64.1" r="2.1"/><circle cx="470.1" cy="67.0" r="2.1"/><circle cx="473.4" cy="70.3" r="2.1"/><circle cx="474.8" cy="72.5" r="2.1"/><circle cx="478.5" cy="69.6" r="2.1"/><circle cx="481.4" cy="68.9" r="2.1"/><circle cx="481.4" cy="71.1" r="2.1"/><circle cx="485.0" cy="65.9" r="2.1"/><circle cx="488.2" cy="67.4" r="2.1"/><circle cx="492.3" cy="68.9" r="2.1"/><circle cx="496.4" cy="68.4" r="2.1"/><circle cx="504.3" cy="70.3" r="2.1"/><circle cx="499.9" cy="72.8" r="2.1"/><circle cx="495.3" cy="71.8" r="2.1"/><circle cx="489.4" cy="71.8" r="2.1"/><circle cx="486.5" cy="70.8" r="2.1"/><circle cx="492.3" cy="73.2" r="2.1"/><circle cx="488.7" cy="73.7" r="2.1"/><circle cx="493.5" cy="75.1" r="2.1"/><circle cx="480.7" cy="76.6" r="2.1"/><circle cx="476.0" cy="77.6" r="2.1"/><circle cx="472.2" cy="80.1" r="2.1"/><circle cx="490.1" cy="78.6" r="2.1"/><circle cx="482.8" cy="81.0" r="2.1"/><circle cx="496.0" cy="82.4" r="2.1"/><circle cx="478.9" cy="83.5" r="2.1"/><circle cx="485.8" cy="84.2" r="2.1"/></g>
<g fill="#9855c8" stroke="#fff" stroke-width="0.42"><circle cx="520.5" cy="146.7" r="2.1"/><circle cx="512.5" cy="149.8" r="2.1"/><circle cx="514.3" cy="127.2" r="2.1"/><circle cx="521.6" cy="134.9" r="2.1"/><circle cx="515.6" cy="135.9" r="2.1"/><circle cx="513.9" cy="141.4" r="2.1"/><circle cx="518.9" cy="136.0" r="2.1"/><circle cx="515.4" cy="129.2" r="2.1"/><circle cx="507.2" cy="161.6" r="2.1"/><circle cx="509.2" cy="151.8" r="2.1"/><circle cx="515.6" cy="156.3" r="2.1"/><circle cx="516.9" cy="142.3" r="2.1"/><circle cx="520.5" cy="137.4" r="2.1"/><circle cx="508.7" cy="126.4" r="2.1"/><circle cx="512.0" cy="125.5" r="2.1"/><circle cx="515.0" cy="125.9" r="2.1"/><circle cx="514.1" cy="129.3" r="2.1"/><circle cx="517.4" cy="130.3" r="2.1"/><circle cx="522.6" cy="132.2" r="2.1"/><circle cx="519.6" cy="133.7" r="2.1"/><circle cx="508.7" cy="135.7" r="2.1"/><circle cx="513.5" cy="135.4" r="2.1"/><circle cx="517.9" cy="135.4" r="2.1"/><circle cx="521.8" cy="136.2" r="2.1"/><circle cx="527.7" cy="134.7" r="2.1"/><circle cx="532.5" cy="136.9" r="2.1"/><circle cx="502.8" cy="138.1" r="2.1"/><circle cx="513.5" cy="138.4" r="2.1"/><circle cx="521.1" cy="138.6" r="2.1"/><circle cx="509.7" cy="140.5" r="2.1"/><circle cx="515.3" cy="141.3" r="2.1"/><circle cx="518.9" cy="142.0" r="2.1"/><circle cx="498.5" cy="141.6" r="2.1"/><circle cx="496.3" cy="143.0" r="2.1"/><circle cx="512.3" cy="143.9" r="2.1"/><circle cx="516.7" cy="144.2" r="2.1"/><circle cx="520.4" cy="144.2" r="2.1"/><circle cx="530.6" cy="144.2" r="2.1"/><circle cx="505.0" cy="146.4" r="2.1"/><circle cx="509.7" cy="146.8" r="2.1"/><circle cx="522.8" cy="146.4" r="2.1"/><circle cx="526.2" cy="146.4" r="2.1"/><circle cx="531.6" cy="146.4" r="2.1"/><circle cx="514.5" cy="149.3" r="2.1"/><circle cx="517.9" cy="148.6" r="2.1"/><circle cx="509.4" cy="150.0" r="2.1"/><circle cx="520.4" cy="150.8" r="2.1"/><circle cx="527.2" cy="151.8" r="2.1"/><circle cx="511.6" cy="151.5" r="2.1"/><circle cx="508.2" cy="153.7" r="2.1"/><circle cx="521.8" cy="153.2" r="2.1"/><circle cx="515.0" cy="154.7" r="2.1"/><circle cx="495.1" cy="157.8" r="2.1"/><circle cx="506.8" cy="158.4" r="2.1"/><circle cx="509.7" cy="158.4" r="2.1"/><circle cx="513.5" cy="158.4" r="2.1"/><circle cx="516.7" cy="157.4" r="2.1"/><circle cx="521.1" cy="158.4" r="2.1"/><circle cx="531.6" cy="158.9" r="2.1"/><circle cx="500.7" cy="161.4" r="2.1"/><circle cx="495.5" cy="162.5" r="2.1"/><circle cx="504.7" cy="163.2" r="2.1"/><circle cx="508.2" cy="163.2" r="2.1"/><circle cx="515.0" cy="163.7" r="2.1"/><circle cx="518.9" cy="162.8" r="2.1"/><circle cx="520.4" cy="164.7" r="2.1"/><circle cx="523.7" cy="163.2" r="2.1"/><circle cx="528.4" cy="164.3" r="2.1"/><circle cx="532.5" cy="162.8" r="2.1"/><circle cx="532.0" cy="160.3" r="2.1"/><circle cx="513.1" cy="166.9" r="2.1"/><circle cx="515.3" cy="168.4" r="2.1"/><circle cx="506.5" cy="168.4" r="2.1"/><circle cx="510.1" cy="169.1" r="2.1"/><circle cx="505.8" cy="171.0" r="2.1"/><circle cx="523.3" cy="171.6" r="2.1"/><circle cx="503.3" cy="173.5" r="2.1"/><circle cx="506.2" cy="174.2" r="2.1"/><circle cx="514.1" cy="175.4" r="2.1"/></g>
<g fill="#a03c30" stroke="#fff" stroke-width="0.42"><circle cx="479.5" cy="121.3" r="2.1"/><circle cx="480.4" cy="118.6" r="2.1"/><circle cx="494.1" cy="121.5" r="2.1"/><circle cx="476.0" cy="113.2" r="2.1"/><circle cx="477.1" cy="118.2" r="2.1"/><circle cx="476.3" cy="121.3" r="2.1"/><circle cx="482.7" cy="127.0" r="2.1"/><circle cx="491.5" cy="120.1" r="2.1"/><circle cx="502.0" cy="119.6" r="2.1"/><circle cx="498.2" cy="123.5" r="2.1"/><circle cx="493.7" cy="116.4" r="2.1"/><circle cx="492.2" cy="117.9" r="2.1"/><circle cx="489.9" cy="115.8" r="2.1"/><circle cx="487.0" cy="96.4" r="2.1"/><circle cx="489.3" cy="99.3" r="2.1"/><circle cx="471.8" cy="101.1" r="2.1"/><circle cx="469.2" cy="104.3" r="2.1"/><circle cx="486.0" cy="104.7" r="2.1"/><circle cx="492.6" cy="103.7" r="2.1"/><circle cx="475.8" cy="105.7" r="2.1"/><circle cx="496.2" cy="106.6" r="2.1"/><circle cx="468.5" cy="108.4" r="2.1"/><circle cx="480.6" cy="108.1" r="2.1"/><circle cx="487.4" cy="108.4" r="2.1"/><circle cx="493.3" cy="108.1" r="2.1"/><circle cx="475.8" cy="109.8" r="2.1"/><circle cx="485.5" cy="109.5" r="2.1"/><circle cx="499.9" cy="110.1" r="2.1"/><circle cx="469.9" cy="112.0" r="2.1"/><circle cx="478.0" cy="112.7" r="2.1"/><circle cx="494.7" cy="111.3" r="2.1"/><circle cx="502.0" cy="112.4" r="2.1"/><circle cx="490.4" cy="113.5" r="2.1"/><circle cx="463.6" cy="116.4" r="2.1"/><circle cx="471.4" cy="115.7" r="2.1"/><circle cx="474.3" cy="115.9" r="2.1"/><circle cx="479.1" cy="116.4" r="2.1"/><circle cx="487.4" cy="114.9" r="2.1"/><circle cx="491.8" cy="115.9" r="2.1"/><circle cx="495.5" cy="114.9" r="2.1"/><circle cx="499.1" cy="117.1" r="2.1"/><circle cx="502.8" cy="118.3" r="2.1"/><circle cx="465.5" cy="119.3" r="2.1"/><circle cx="468.5" cy="120.8" r="2.1"/><circle cx="475.8" cy="118.9" r="2.1"/><circle cx="480.1" cy="120.0" r="2.1"/><circle cx="482.3" cy="120.8" r="2.1"/><circle cx="488.9" cy="118.9" r="2.1"/><circle cx="493.3" cy="120.0" r="2.1"/><circle cx="499.1" cy="120.8" r="2.1"/><circle cx="461.9" cy="123.2" r="2.1"/><circle cx="465.1" cy="124.1" r="2.1"/><circle cx="471.8" cy="123.2" r="2.1"/><circle cx="475.0" cy="122.2" r="2.1"/><circle cx="478.7" cy="122.2" r="2.1"/><circle cx="490.4" cy="122.2" r="2.1"/><circle cx="488.2" cy="123.7" r="2.1"/><circle cx="494.0" cy="124.1" r="2.1"/><circle cx="496.6" cy="123.0" r="2.1"/><circle cx="501.3" cy="121.5" r="2.1"/><circle cx="482.3" cy="124.4" r="2.1"/><circle cx="470.4" cy="127.2" r="2.1"/><circle cx="473.9" cy="129.0" r="2.1"/><circle cx="475.8" cy="130.7" r="2.1"/><circle cx="480.6" cy="127.2" r="2.1"/><circle cx="484.5" cy="128.2" r="2.1"/><circle cx="488.2" cy="129.0" r="2.1"/><circle cx="491.8" cy="128.7" r="2.1"/><circle cx="496.9" cy="129.0" r="2.1"/><circle cx="502.5" cy="128.2" r="2.1"/><circle cx="498.4" cy="125.3" r="2.1"/><circle cx="484.5" cy="132.2" r="2.1"/><circle cx="479.1" cy="134.1" r="2.1"/><circle cx="483.5" cy="134.8" r="2.1"/><circle cx="494.0" cy="132.6" r="2.1"/><circle cx="495.2" cy="135.1" r="2.1"/><circle cx="478.7" cy="138.5" r="2.1"/><circle cx="481.6" cy="139.9" r="2.1"/></g>
<rect x="319.1" y="7.4" width="223.14999999999998" height="219.5" fill="none" stroke="#444" stroke-width="0.9"/>
<g stroke="#333" stroke-width="0.8"><line x1="344.90" y1="226.9" x2="344.90" y2="229.4"/><line x1="372.95" y1="226.9" x2="372.95" y2="229.4"/><line x1="401.00" y1="226.9" x2="401.00" y2="229.4"/><line x1="429.05" y1="226.9" x2="429.05" y2="229.4"/><line x1="457.10" y1="226.9" x2="457.10" y2="229.4"/><line x1="485.15" y1="226.9" x2="485.15" y2="229.4"/><line x1="513.20" y1="226.9" x2="513.20" y2="229.4"/><line x1="541.25" y1="226.9" x2="541.25" y2="229.4"/><line x1="316.6" y1="225.14" x2="319.1" y2="225.14"/><line x1="316.6" y1="198.16" x2="319.1" y2="198.16"/><line x1="316.6" y1="171.18" x2="319.1" y2="171.18"/><line x1="316.6" y1="144.20" x2="319.1" y2="144.20"/><line x1="316.6" y1="117.22" x2="319.1" y2="117.22"/><line x1="316.6" y1="90.24" x2="319.1" y2="90.24"/><line x1="316.6" y1="63.26" x2="319.1" y2="63.26"/><line x1="316.6" y1="36.28" x2="319.1" y2="36.28"/><line x1="316.6" y1="9.30" x2="319.1" y2="9.30"/></g>
<g text-anchor="middle"><text x="344.90" y="237.2">−10.0</text><text x="372.95" y="237.2">−7.5</text><text x="401.00" y="237.2">−5.0</text><text x="429.05" y="237.2">−2.5</text><text x="457.10" y="237.2">0.0</text><text x="485.15" y="237.2">2.5</text><text x="513.20" y="237.2">5.0</text><text x="541.25" y="237.2">7.5</text></g>
<g text-anchor="end"><text x="313.9" y="227.34">−10</text><text x="313.9" y="200.36">−8</text><text x="313.9" y="173.38">−6</text><text x="313.9" y="146.40">−4</text><text x="313.9" y="119.42">−2</text><text x="313.9" y="92.44">0</text><text x="313.9" y="65.46">2</text><text x="313.9" y="38.48">4</text><text x="313.9" y="11.50">6</text></g>
<text x="430.68" y="246.5" text-anchor="middle">t-SNE Dimension 1</text>
<text transform="translate(294.9,117.15) rotate(-90)" text-anchor="middle">t-SNE Dimension 2</text>
<rect x="321.4" y="10.4" width="49.0" height="64.0" rx="1.3" ry="1.3" fill="#fff" fill-opacity="0.8" stroke="#cfcfcf" stroke-width="0.55"/>
<circle cx="331.9" cy="16.90" r="2.1" fill="#0071c1" stroke="#fff" stroke-width="0.42"/><text x="343.6" y="19.25">neutral</text>
<circle cx="331.9" cy="27.20" r="2.1" fill="#ff7d05" stroke="#fff" stroke-width="0.42"/><text x="343.6" y="29.55">happy</text>
<circle cx="331.9" cy="37.50" r="2.1" fill="#08a318" stroke="#fff" stroke-width="0.42"/><text x="343.6" y="39.85">sad</text>
<circle cx="331.9" cy="47.80" r="2.1" fill="#fa0f14" stroke="#fff" stroke-width="0.42"/><text x="343.6" y="50.15">angry</text>
<circle cx="331.9" cy="58.10" r="2.1" fill="#9855c8" stroke="#fff" stroke-width="0.42"/><text x="343.6" y="60.45">fear</text>
<circle cx="331.9" cy="68.40" r="2.1" fill="#a03c30" stroke="#fff" stroke-width="0.42"/><text x="343.6" y="70.75">disgust</text>
<g font-family="'Liberation Serif','DejaVu Serif',serif" font-size="15.2" fill="#111" text-anchor="middle"><text x="134.2" y="274">(<tspan font-weight="bold">a</tspan>)</text><text x="418.6" y="274">(<tspan font-weight="bold" font-size="16">b</tspan>)</text></g>
</svg>
</body></html>
